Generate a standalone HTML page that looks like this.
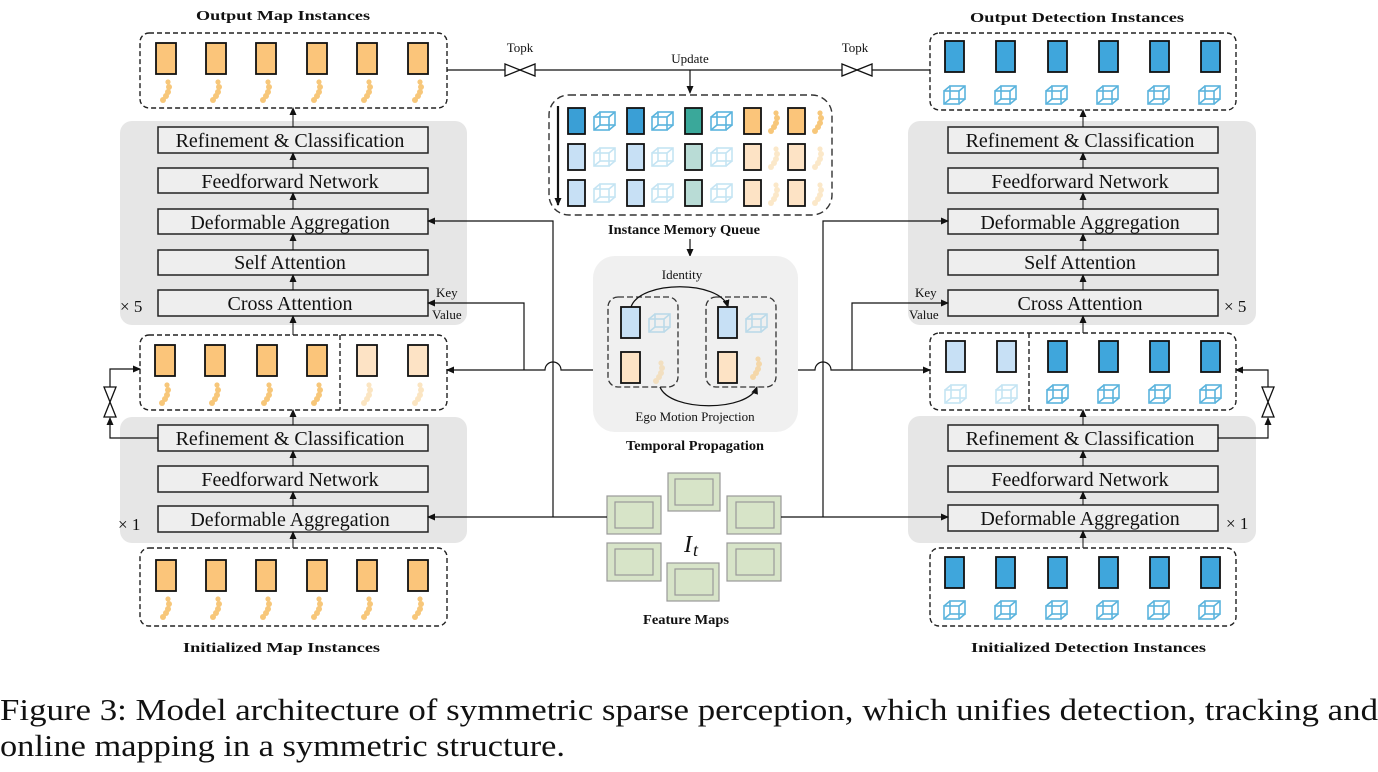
<!DOCTYPE html>
<html><head><meta charset="utf-8"><style>
html,body{margin:0;padding:0;background:#fff;}
svg{display:block;}
text{font-family:"Liberation Serif",serif;fill:#111;}
.b{font-weight:bold;font-size:14px;}
.l{font-size:20px;}
.s{font-size:13px;}
</style></head><body>
<svg width="1378" height="772" viewBox="0 0 1378 772" xmlns="http://www.w3.org/2000/svg">
<defs>
<marker id="ar" markerWidth="8" markerHeight="8" refX="7" refY="4" orient="auto" markerUnits="userSpaceOnUse"><path d="M0,0.5 L8,4 L0,7.5 Z" fill="#111"/></marker>
<g id="dots" fill="#f7c77a"><circle cx="-5" cy="19" r="3"/><circle cx="-2" cy="15" r="3"/><circle cx="0" cy="11" r="3"/><circle cx="1" cy="6" r="3"/><circle cx="0" cy="1" r="2.6"/></g>
<g id="cube" fill="none" stroke="#5bb4dd" stroke-width="1.6"><rect x="0" y="5" width="15" height="13"/><rect x="6" y="0" width="15" height="13"/><path d="M0,5 L6,0 M15,5 L21,0 M15,18 L21,13 M0,18 L6,13"/></g>
<g id="valveH" fill="#fff" stroke="#111" stroke-width="1.3"><path d="M-15,-6 L15,6 L15,-6 L-15,6 Z"/></g>
<g id="valveV" fill="#fff" stroke="#111" stroke-width="1.3"><path d="M-6,-15 L6,15 L-6,15 L6,-15 Z"/></g>
</defs>

<!-- titles -->
<text class="b" x="196" y="20" font-size="17" textLength="174" lengthAdjust="spacingAndGlyphs">Output Map Instances</text>
<text class="b" x="970" y="22" font-size="17" textLength="214" lengthAdjust="spacingAndGlyphs">Output Detection Instances</text>
<text class="b" x="183" y="652" font-size="17" textLength="197" lengthAdjust="spacingAndGlyphs">Initialized Map Instances</text>
<text class="b" x="971" y="652" font-size="17" textLength="235" lengthAdjust="spacingAndGlyphs">Initialized Detection Instances</text>

<!-- gray panels -->
<rect x="120" y="121" width="347" height="204" rx="12" fill="#e6e6e6"/>
<rect x="120" y="417" width="347" height="126" rx="12" fill="#e6e6e6"/>
<rect x="908" y="121" width="348" height="204" rx="12" fill="#e6e6e6"/>
<rect x="908" y="416" width="348" height="127" rx="12" fill="#e6e6e6"/>

<g fill="#eeeeee" stroke="#222" stroke-width="1.5">
<rect x="158" y="127" width="270" height="26"/><rect x="158" y="168" width="270" height="25"/><rect x="158" y="209" width="270" height="25"/><rect x="158" y="250" width="270" height="25"/><rect x="158" y="290" width="270" height="26"/>
<rect x="158" y="425" width="270" height="26"/><rect x="158" y="466" width="270" height="26"/><rect x="158" y="506" width="270" height="26"/>
<rect x="948" y="127" width="270" height="26"/><rect x="948" y="168" width="270" height="25"/><rect x="948" y="209" width="270" height="25"/><rect x="948" y="250" width="270" height="25"/><rect x="948" y="290" width="270" height="26"/>
<rect x="948" y="425" width="270" height="26"/><rect x="948" y="466" width="270" height="26"/><rect x="948" y="505" width="270" height="26"/>
</g>
<g class="l" text-anchor="middle">
<text x="290" y="147">Refinement &amp; Classification</text><text x="290" y="188">Feedforward Network</text><text x="290" y="229">Deformable Aggregation</text><text x="290" y="269">Self Attention</text><text x="290" y="310">Cross Attention</text>
<text x="290" y="445">Refinement &amp; Classification</text><text x="290" y="486">Feedforward Network</text><text x="290" y="526">Deformable Aggregation</text>
<text x="1080" y="147">Refinement &amp; Classification</text><text x="1080" y="188">Feedforward Network</text><text x="1080" y="229">Deformable Aggregation</text><text x="1080" y="269">Self Attention</text><text x="1080" y="310">Cross Attention</text>
<text x="1080" y="445">Refinement &amp; Classification</text><text x="1080" y="486">Feedforward Network</text><text x="1080" y="525">Deformable Aggregation</text>
</g>
<g font-family="Liberation Sans, sans-serif" font-size="17">
<text x="120" y="312">× 5</text><text x="118" y="530">× 1</text><text x="1224" y="312">× 5</text><text x="1226" y="529">× 1</text>
</g>

<!-- vertical arrows between boxes -->
<g stroke="#111" stroke-width="1" marker-end="url(#ar)">
<line x1="293" y1="127" x2="293" y2="108"/><line x1="293" y1="168" x2="293" y2="153"/><line x1="293" y1="209" x2="293" y2="193"/><line x1="293" y1="250" x2="293" y2="234"/><line x1="293" y1="290" x2="293" y2="275"/>
<line x1="293" y1="335" x2="293" y2="316"/><line x1="293" y1="425" x2="293" y2="410"/><line x1="293" y1="466" x2="293" y2="451"/><line x1="293" y1="506" x2="293" y2="492"/><line x1="293" y1="548" x2="293" y2="532"/>
<line x1="1083" y1="127" x2="1083" y2="110"/><line x1="1083" y1="168" x2="1083" y2="153"/><line x1="1083" y1="209" x2="1083" y2="193"/><line x1="1083" y1="250" x2="1083" y2="234"/><line x1="1083" y1="290" x2="1083" y2="275"/>
<line x1="1083" y1="333" x2="1083" y2="316"/><line x1="1083" y1="425" x2="1083" y2="410"/><line x1="1083" y1="466" x2="1083" y2="451"/><line x1="1083" y1="505" x2="1083" y2="492"/><line x1="1083" y1="548" x2="1083" y2="531"/>
</g>

<!-- instance dashed boxes -->
<g fill="none" stroke="#222" stroke-width="1.4" stroke-dasharray="5,3">
<rect x="140" y="33" width="307" height="75" rx="9"/>
<rect x="140" y="335" width="307" height="75" rx="9"/><line x1="340" y1="335" x2="340" y2="410"/>
<rect x="140" y="548" width="307" height="78" rx="9"/>
<rect x="930" y="33" width="306" height="77" rx="9"/>
<rect x="930" y="333" width="306" height="77" rx="9"/><line x1="1029" y1="333" x2="1029" y2="410"/>
<rect x="930" y="548" width="306" height="78" rx="9"/>
</g>

<!-- map instance icons -->
<g stroke="#111" stroke-width="1.8">
<g fill="#fbc57a">
<rect x="156" y="43" width="20" height="31"/><rect x="206" y="43" width="20" height="31"/><rect x="256" y="43" width="20" height="31"/><rect x="307" y="43" width="20" height="31"/><rect x="357" y="43" width="20" height="31"/><rect x="408" y="43" width="20" height="31"/>
<rect x="155" y="345" width="20" height="31"/><rect x="205" y="345" width="20" height="31"/><rect x="257" y="345" width="20" height="31"/><rect x="307" y="345" width="20" height="31"/>
<rect x="156" y="560" width="20" height="31"/><rect x="206" y="560" width="20" height="31"/><rect x="256" y="560" width="20" height="31"/><rect x="307" y="560" width="20" height="31"/><rect x="357" y="560" width="20" height="31"/><rect x="408" y="560" width="20" height="31"/>
</g>
<g fill="#fde3c5"><rect x="357" y="345" width="20" height="31"/><rect x="408" y="345" width="20" height="31"/></g>
</g>
<g>
<use href="#dots" x="168" y="81"/><use href="#dots" x="218" y="81"/><use href="#dots" x="268" y="81"/><use href="#dots" x="319" y="81"/><use href="#dots" x="369" y="81"/><use href="#dots" x="420" y="81"/>
<use href="#dots" x="167" y="384"/><use href="#dots" x="217" y="384"/><use href="#dots" x="269" y="384"/><use href="#dots" x="319" y="384"/>
<g opacity="0.45"><use href="#dots" x="369" y="384"/><use href="#dots" x="420" y="384"/></g>
<use href="#dots" x="168" y="598"/><use href="#dots" x="218" y="598"/><use href="#dots" x="268" y="598"/><use href="#dots" x="319" y="598"/><use href="#dots" x="369" y="598"/><use href="#dots" x="420" y="598"/>
</g>

<!-- detection icons -->
<g stroke="#111" stroke-width="1.8">
<g fill="#3fa6dc">
<rect x="945" y="41" width="19" height="31"/><rect x="996" y="41" width="19" height="31"/><rect x="1048" y="41" width="19" height="31"/><rect x="1099" y="41" width="19" height="31"/><rect x="1150" y="41" width="19" height="31"/><rect x="1201" y="41" width="19" height="31"/>
<rect x="1048" y="341" width="19" height="31"/><rect x="1099" y="341" width="19" height="31"/><rect x="1150" y="341" width="19" height="31"/><rect x="1201" y="341" width="19" height="31"/>
<rect x="945" y="557" width="19" height="31"/><rect x="996" y="557" width="19" height="31"/><rect x="1048" y="557" width="19" height="31"/><rect x="1099" y="557" width="19" height="31"/><rect x="1150" y="557" width="19" height="31"/><rect x="1201" y="557" width="19" height="31"/>
</g>
<g fill="#c7e0f5"><rect x="946" y="341" width="19" height="31"/><rect x="997" y="341" width="19" height="31"/></g>
</g>
<g>
<use href="#cube" x="944" y="86"/><use href="#cube" x="995" y="86"/><use href="#cube" x="1046" y="86"/><use href="#cube" x="1097" y="86"/><use href="#cube" x="1148" y="86"/><use href="#cube" x="1199" y="86"/>
<g opacity="0.35"><use href="#cube" x="945" y="385"/><use href="#cube" x="996" y="385"/></g>
<use href="#cube" x="1047" y="385"/><use href="#cube" x="1098" y="385"/><use href="#cube" x="1149" y="385"/><use href="#cube" x="1200" y="385"/>
<use href="#cube" x="944" y="601"/><use href="#cube" x="995" y="601"/><use href="#cube" x="1046" y="601"/><use href="#cube" x="1097" y="601"/><use href="#cube" x="1148" y="601"/><use href="#cube" x="1199" y="601"/>
</g>

<!-- top line with topk valves -->
<line x1="447" y1="70" x2="930" y2="70" stroke="#111" stroke-width="1.2"/>
<use href="#valveH" x="520" y="70"/><use href="#valveH" x="857" y="70"/>
<text class="s" x="520" y="52" text-anchor="middle">Topk</text>
<text class="s" x="855" y="52" text-anchor="middle">Topk</text>
<text class="s" x="690" y="63" text-anchor="middle">Update</text>
<line x1="690" y1="70" x2="690" y2="93" stroke="#111" stroke-width="1.2" marker-end="url(#ar)"/>

<!-- memory queue -->
<rect x="549" y="95" width="283" height="120" rx="20" fill="none" stroke="#333" stroke-width="1.4" stroke-dasharray="7,4"/>
<line x1="558" y1="106" x2="558" y2="205" stroke="#111" stroke-width="2.2" marker-end="url(#ar)"/>
<g stroke="#111" stroke-width="1.8">
<rect x="568" y="108" width="17" height="26" fill="#3a9fd6"/><rect x="627" y="108" width="17" height="26" fill="#3a9fd6"/><rect x="685" y="108" width="17" height="26" fill="#3aa89a"/><rect x="744" y="108" width="17" height="26" fill="#fbc57a"/><rect x="788" y="108" width="17" height="26" fill="#fbc57a"/>
<rect x="568" y="144" width="17" height="26" fill="#c7e0f5"/><rect x="627" y="144" width="17" height="26" fill="#c7e0f5"/><rect x="685" y="144" width="17" height="26" fill="#b9dcd6"/><rect x="744" y="144" width="17" height="26" fill="#fde3c5"/><rect x="788" y="144" width="17" height="26" fill="#fde3c5"/>
<rect x="568" y="180" width="17" height="26" fill="#c7e0f5"/><rect x="627" y="180" width="17" height="26" fill="#c7e0f5"/><rect x="685" y="180" width="17" height="26" fill="#b9dcd6"/><rect x="744" y="180" width="17" height="26" fill="#fde3c5"/><rect x="788" y="180" width="17" height="26" fill="#fde3c5"/>
</g>
<use href="#cube" x="594" y="112"/><use href="#cube" x="652" y="112"/><use href="#cube" x="711" y="112"/>
<g opacity="0.35"><use href="#cube" x="594" y="148"/><use href="#cube" x="652" y="148"/><use href="#cube" x="711" y="148"/><use href="#cube" x="594" y="184"/><use href="#cube" x="652" y="184"/><use href="#cube" x="711" y="184"/></g>
<use href="#dots" x="776" y="112"/><use href="#dots" x="820" y="112"/>
<g opacity="0.4"><use href="#dots" x="776" y="148"/><use href="#dots" x="820" y="148"/><use href="#dots" x="776" y="184"/><use href="#dots" x="820" y="184"/></g>
<text class="b" x="608" y="234" font-size="13" textLength="152" lengthAdjust="spacingAndGlyphs">Instance Memory Queue</text>
<line x1="690" y1="239" x2="690" y2="256" stroke="#111" stroke-width="1.2" marker-end="url(#ar)"/>

<!-- temporal propagation -->
<rect x="593" y="256" width="205" height="176" rx="22" fill="#f0f0f0"/>
<text class="s" x="682" y="279" text-anchor="middle">Identity</text>
<text class="s" x="695" y="421" text-anchor="middle">Ego Motion Projection</text>
<g fill="none" stroke="#333" stroke-width="1.3" stroke-dasharray="6,3">
<rect x="608" y="297" width="70" height="90" rx="10"/><rect x="706" y="297" width="70" height="90" rx="10"/>
</g>
<g stroke="#111" stroke-width="1.8">
<rect x="621" y="307" width="19" height="31" fill="#c7e0f5"/><rect x="621" y="352" width="19" height="31" fill="#fde3c5"/>
<rect x="718" y="307" width="19" height="31" fill="#c7e0f5"/><rect x="718" y="352" width="19" height="31" fill="#fde3c5"/>
</g>
<g opacity="0.35"><use href="#cube" x="649" y="314"/><use href="#cube" x="746" y="314"/></g>
<g opacity="0.4"><use href="#dots" x="661" y="362"/></g><g opacity="0.6"><use href="#dots" x="758" y="358"/></g>
<path d="M631,307 C640,280 720,280 728,307" fill="none" stroke="#111" stroke-width="1.3" marker-end="url(#ar)"/>
<path d="M660,387 C670,412 748,412 757,387" fill="none" stroke="#111" stroke-width="1.3" marker-end="url(#ar)"/>
<text class="b" x="626" y="450" font-size="13" textLength="138" lengthAdjust="spacingAndGlyphs">Temporal Propagation</text>

<!-- feature maps -->
<g fill="#d7e4c8" stroke="#999" stroke-width="1.2">
<rect x="668" y="473" width="52" height="38"/><rect x="675" y="479" width="38" height="26"/>
<rect x="607" y="496" width="54" height="38"/><rect x="615" y="502" width="38" height="26"/>
<rect x="727" y="496" width="54" height="38"/><rect x="736" y="502" width="38" height="26"/>
<rect x="607" y="543" width="54" height="38"/><rect x="615" y="549" width="38" height="26"/>
<rect x="727" y="543" width="54" height="38"/><rect x="736" y="549" width="38" height="26"/>
<rect x="667" y="563" width="52" height="38"/><rect x="675" y="569" width="38" height="26"/>
</g>
<text x="684" y="552" font-size="24" font-style="italic">I</text><text x="693" y="556" font-size="18" font-style="italic">t</text>
<text class="b" x="643" y="624" font-size="13" textLength="86" lengthAdjust="spacingAndGlyphs">Feature Maps</text>

<!-- connectors -->
<g stroke="#111" stroke-width="1.2" fill="none">
<path d="M607,517 L428,517" marker-end="url(#ar)"/>
<path d="M553,517 L553,221 L428,221" marker-end="url(#ar)"/>
<path d="M593,370 L561,370 A8,8 0 0 0 545,370 L447,370" marker-end="url(#ar)"/>
<path d="M524,370 L524,303 L428,303" marker-end="url(#ar)"/>
<path d="M781,517 L948,517" marker-end="url(#ar)"/>
<path d="M823,517 L823,221 L948,221" marker-end="url(#ar)"/>
<path d="M798,370 L815,370 A8,8 0 0 1 831,370 L930,370" marker-end="url(#ar)"/>
<path d="M852,370 L852,303 L948,303" marker-end="url(#ar)"/>
<path d="M158,438 L110,438 L110,418" marker-end="url(#ar)"/>
<path d="M110,387 L110,369 L140,369" marker-end="url(#ar)"/>
<path d="M1218,438 L1268,438 L1268,418" marker-end="url(#ar)"/>
<path d="M1268,387 L1268,370 L1236,370" marker-end="url(#ar)"/>
</g>
<use href="#valveV" x="110" y="402"/><use href="#valveV" x="1268" y="402"/>
<text class="s" x="436" y="297">Key</text><text class="s" x="432" y="319">Value</text>
<text class="s" x="915" y="297">Key</text><text class="s" x="909" y="319">Value</text>

<!-- caption -->
<text x="0" y="720" font-size="31" textLength="1378" lengthAdjust="spacingAndGlyphs">Figure 3: Model architecture of symmetric sparse perception, which unifies detection, tracking and</text>
<text x="0" y="756" font-size="31" textLength="565" lengthAdjust="spacingAndGlyphs">online mapping in a symmetric structure.</text>
</svg>
</body></html>
